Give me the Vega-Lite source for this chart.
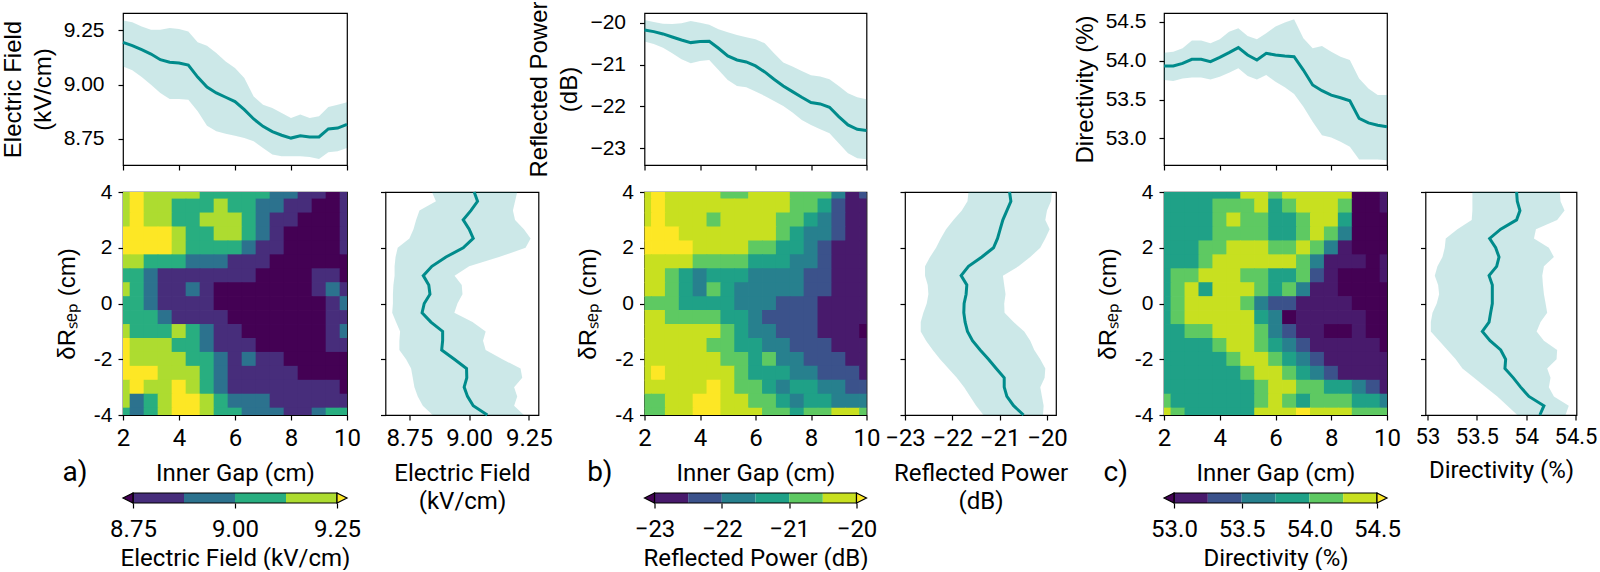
{
"$schema":"https://vega.github.io/schema/vega-lite/v6.json",
"background":"white",
"padding":{"left":0,"top":0,"right":0,"bottom":0},
"config":{
 "view":{"stroke":"black","strokeWidth":1.2},
 "axis":{"grid":false,"domain":false,"tickColor":"black","tickWidth":1.2,"tickSize":5,"labelColor":"black","titleColor":"black","labelFont":"Roboto","titleFont":"Roboto","labelFontSize":24,"titleFontSize":24,"titleFontWeight":"normal","labelFlush":false,"labelOverlap":false,"labelPadding":6,"titlePadding":11,"titleLineHeight":28},
 "axisY":{"labelFont":"Liberation Sans","titleFont":"Liberation Sans","labelFontSize":21,"titleFontSize":24,"titleLineHeight":30,"labelPadding":6,"titlePadding":8},
 "title":{"font":"Roboto","fontWeight":"normal","color":"black"}
},
"columns":8,
"bounds":"flush",
"align":"each",
"spacing":{"row":27,"column":38.5},
"resolve":{"scale":{"x":"independent","y":"independent","color":"independent"}},
"datasets":{
"topA":[
{"g":2,"m":9.195,"lo":9.084,"hi":9.296},{"g":2.333,"m":9.18,"lo":9.066,"hi":9.287},{"g":2.667,"m":9.161,"lo":9.035,"hi":9.268},{"g":3,"m":9.141,"lo":9.0,"hi":9.253},{"g":3.333,"m":9.115,"lo":8.962,"hi":9.253},{"g":3.667,"m":9.103,"lo":8.934,"hi":9.261},{"g":4,"m":9.1,"lo":8.934,"hi":9.256},{"g":4.333,"m":9.09,"lo":8.931,"hi":9.245},{"g":4.667,"m":9.035,"lo":8.877,"hi":9.195},{"g":5,"m":8.989,"lo":8.811,"hi":9.179},{"g":5.333,"m":8.962,"lo":8.785,"hi":9.146},{"g":5.667,"m":8.942,"lo":8.774,"hi":9.107},{"g":6,"m":8.922,"lo":8.765,"hi":9.077},{"g":6.333,"m":8.885,"lo":8.754,"hi":9.031},{"g":6.667,"m":8.842,"lo":8.739,"hi":8.946},{"g":7,"m":8.808,"lo":8.708,"hi":8.908},{"g":7.333,"m":8.784,"lo":8.678,"hi":8.893},{"g":7.667,"m":8.767,"lo":8.67,"hi":8.87},{"g":8,"m":8.754,"lo":8.67,"hi":8.847},{"g":8.333,"m":8.765,"lo":8.67,"hi":8.862},{"g":8.667,"m":8.759,"lo":8.667,"hi":8.847},{"g":9,"m":8.759,"lo":8.658,"hi":8.854},{"g":9.333,"m":8.796,"lo":8.689,"hi":8.897},{"g":9.667,"m":8.8,"lo":8.693,"hi":8.908},{"g":10,"m":8.817,"lo":8.708,"hi":8.919}],
"sideA":[
{"d":4,"m":9.021,"lo":8.844,"hi":9.201},{"d":3.667,"m":9.035,"lo":8.861,"hi":9.192},{"d":3.333,"m":9.007,"lo":8.792,"hi":9.183},{"d":3,"m":8.975,"lo":8.778,"hi":9.192},{"d":2.667,"m":9.0,"lo":8.767,"hi":9.229},{"d":2.333,"m":9.017,"lo":8.75,"hi":9.257},{"d":2,"m":8.975,"lo":8.701,"hi":9.236},{"d":1.667,"m":8.903,"lo":8.692,"hi":9.125},{"d":1.333,"m":8.844,"lo":8.688,"hi":9.0},{"d":1,"m":8.808,"lo":8.688,"hi":8.939},{"d":0.667,"m":8.831,"lo":8.683,"hi":8.969},{"d":0.333,"m":8.836,"lo":8.681,"hi":8.972},{"d":0,"m":8.812,"lo":8.681,"hi":8.951},{"d":-0.333,"m":8.803,"lo":8.678,"hi":8.938},{"d":-0.667,"m":8.84,"lo":8.694,"hi":9.014},{"d":-1,"m":8.889,"lo":8.711,"hi":9.069},{"d":-1.333,"m":8.889,"lo":8.708,"hi":9.058},{"d":-1.667,"m":8.885,"lo":8.708,"hi":9.069},{"d":-2,"m":8.938,"lo":8.736,"hi":9.139},{"d":-2.333,"m":8.989,"lo":8.757,"hi":9.215},{"d":-2.667,"m":8.99,"lo":8.764,"hi":9.222},{"d":-3,"m":8.979,"lo":8.771,"hi":9.188},{"d":-3.333,"m":8.993,"lo":8.785,"hi":9.201},{"d":-3.667,"m":9.017,"lo":8.806,"hi":9.188},{"d":-4,"m":9.076,"lo":8.847,"hi":9.229}],
"topB":[
{"g":2,"m":-20.175,"lo":-20.453,"hi":-19.936},{"g":2.333,"m":-20.215,"lo":-20.509,"hi":-19.984},{"g":2.667,"m":-20.27,"lo":-20.597,"hi":-20.024},{"g":3,"m":-20.342,"lo":-20.732,"hi":-20.032},{"g":3.333,"m":-20.414,"lo":-20.875,"hi":-20.016},{"g":3.667,"m":-20.477,"lo":-20.971,"hi":-19.96},{"g":4,"m":-20.453,"lo":-20.915,"hi":-20.0},{"g":4.333,"m":-20.445,"lo":-20.891,"hi":-20.048},{"g":4.667,"m":-20.613,"lo":-21.13,"hi":-20.159},{"g":5,"m":-20.796,"lo":-21.368,"hi":-20.231},{"g":5.333,"m":-20.891,"lo":-21.512,"hi":-20.294},{"g":5.667,"m":-20.939,"lo":-21.543,"hi":-20.35},{"g":6,"m":-21.034,"lo":-21.647,"hi":-20.398},{"g":6.333,"m":-21.177,"lo":-21.75,"hi":-20.493},{"g":6.667,"m":-21.352,"lo":-21.87,"hi":-20.732},{"g":7,"m":-21.512,"lo":-21.989,"hi":-20.955},{"g":7.333,"m":-21.647,"lo":-22.148,"hi":-21.05},{"g":7.667,"m":-21.782,"lo":-22.323,"hi":-21.154},{"g":8,"m":-21.909,"lo":-22.442,"hi":-21.257},{"g":8.333,"m":-21.941,"lo":-22.546,"hi":-21.289},{"g":8.667,"m":-22.021,"lo":-22.641,"hi":-21.352},{"g":9,"m":-22.243,"lo":-22.88,"hi":-21.512},{"g":9.333,"m":-22.442,"lo":-23.119,"hi":-21.687},{"g":9.667,"m":-22.546,"lo":-23.238,"hi":-21.782},{"g":10,"m":-22.578,"lo":-23.262,"hi":-21.83}],
"sideB":[
{"d":4,"m":-20.791,"lo":-21.659,"hi":-19.895},{"d":3.667,"m":-20.763,"lo":-21.68,"hi":-19.916},{"d":3.333,"m":-20.848,"lo":-21.8,"hi":-20.0},{"d":3,"m":-20.932,"lo":-21.977,"hi":-20.036},{"d":2.667,"m":-20.989,"lo":-22.132,"hi":-19.944},{"d":2.333,"m":-21.045,"lo":-22.245,"hi":-20.036},{"d":2,"m":-21.13,"lo":-22.344,"hi":-20.142},{"d":1.667,"m":-21.377,"lo":-22.471,"hi":-20.354},{"d":1.333,"m":-21.659,"lo":-22.577,"hi":-20.601},{"d":1,"m":-21.814,"lo":-22.577,"hi":-20.932},{"d":0.667,"m":-21.694,"lo":-22.52,"hi":-20.904},{"d":0.333,"m":-21.709,"lo":-22.506,"hi":-20.876},{"d":0,"m":-21.751,"lo":-22.541,"hi":-20.904},{"d":-0.333,"m":-21.758,"lo":-22.612,"hi":-20.897},{"d":-0.667,"m":-21.73,"lo":-22.668,"hi":-20.706},{"d":-1,"m":-21.68,"lo":-22.668,"hi":-20.481},{"d":-1.333,"m":-21.574,"lo":-22.555,"hi":-20.354},{"d":-1.667,"m":-21.412,"lo":-22.414,"hi":-20.269},{"d":-2,"m":-21.236,"lo":-22.259,"hi":-20.142},{"d":-2.333,"m":-21.073,"lo":-22.083,"hi":-20.036},{"d":-2.667,"m":-20.904,"lo":-21.906,"hi":-20.05},{"d":-3,"m":-20.904,"lo":-21.751,"hi":-20.142},{"d":-3.333,"m":-20.848,"lo":-21.624,"hi":-20.107},{"d":-3.667,"m":-20.706,"lo":-21.497,"hi":-20.071},{"d":-4,"m":-20.495,"lo":-21.342,"hi":-20.085}],
"topC":[
{"g":2,"m":53.93,"lo":53.75,"hi":54.101},{"g":2.333,"m":53.93,"lo":53.737,"hi":54.114},{"g":2.667,"m":53.964,"lo":53.771,"hi":54.157},{"g":3,"m":54.016,"lo":53.784,"hi":54.256},{"g":3.333,"m":54.016,"lo":53.784,"hi":54.256},{"g":3.667,"m":53.986,"lo":53.758,"hi":54.221},{"g":4,"m":54.041,"lo":53.793,"hi":54.273},{"g":4.333,"m":54.101,"lo":53.844,"hi":54.371},{"g":4.667,"m":54.166,"lo":53.9,"hi":54.414},{"g":5,"m":54.071,"lo":53.801,"hi":54.316},{"g":5.333,"m":54.007,"lo":53.758,"hi":54.273},{"g":5.667,"m":54.093,"lo":53.814,"hi":54.35},{"g":6,"m":54.071,"lo":53.728,"hi":54.436},{"g":6.333,"m":54.058,"lo":53.656,"hi":54.487},{"g":6.667,"m":54.05,"lo":53.57,"hi":54.53},{"g":7,"m":53.878,"lo":53.407,"hi":54.286},{"g":7.333,"m":53.686,"lo":53.214,"hi":54.157},{"g":7.667,"m":53.613,"lo":53.043,"hi":54.187},{"g":8,"m":53.557,"lo":53.013,"hi":54.114},{"g":8.333,"m":53.523,"lo":52.957,"hi":54.05},{"g":8.667,"m":53.484,"lo":52.893,"hi":54.007},{"g":9,"m":53.257,"lo":52.73,"hi":53.771},{"g":9.333,"m":53.201,"lo":52.73,"hi":53.643},{"g":9.667,"m":53.171,"lo":52.73,"hi":53.557},{"g":10,"m":53.15,"lo":52.721,"hi":53.557}],
"sideC":[
{"d":4,"m":53.903,"lo":53.455,"hi":54.341},{"d":3.667,"m":53.91,"lo":53.455,"hi":54.348},{"d":3.333,"m":53.937,"lo":53.455,"hi":54.389},{"d":3,"m":53.903,"lo":53.448,"hi":54.314},{"d":2.667,"m":53.742,"lo":53.303,"hi":54.099},{"d":2.333,"m":53.63,"lo":53.185,"hi":54.079},{"d":2,"m":53.691,"lo":53.175,"hi":54.23},{"d":1.667,"m":53.725,"lo":53.152,"hi":54.281},{"d":1.333,"m":53.701,"lo":53.101,"hi":54.18},{"d":1,"m":53.624,"lo":53.074,"hi":54.163},{"d":0.667,"m":53.657,"lo":53.108,"hi":54.17},{"d":0.333,"m":53.657,"lo":53.118,"hi":54.18},{"d":0,"m":53.657,"lo":53.094,"hi":54.197},{"d":-0.333,"m":53.64,"lo":53.051,"hi":54.213},{"d":-0.667,"m":53.624,"lo":53.034,"hi":54.146},{"d":-1,"m":53.556,"lo":53.034,"hi":54.106},{"d":-1.333,"m":53.634,"lo":53.118,"hi":54.18},{"d":-1.667,"m":53.742,"lo":53.202,"hi":54.314},{"d":-2,"m":53.792,"lo":53.286,"hi":54.308},{"d":-2.333,"m":53.785,"lo":53.354,"hi":54.213},{"d":-2.667,"m":53.87,"lo":53.472,"hi":54.247},{"d":-3,"m":53.944,"lo":53.59,"hi":54.23},{"d":-3.333,"m":54.028,"lo":53.708,"hi":54.281},{"d":-3.667,"m":54.18,"lo":53.809,"hi":54.432},{"d":-4,"m":54.139,"lo":53.91,"hi":54.399}],
"gridA":[
{"g":2,"d":4,"v":9.19},{"g":2.5,"d":4,"v":9.3},{"g":3,"d":4,"v":9.19},{"g":3.5,"d":4,"v":9.19},{"g":4,"d":4,"v":9.19},{"g":4.5,"d":4,"v":9.19},{"g":5,"d":4,"v":9.06},{"g":5.5,"d":4,"v":9.06},{"g":6,"d":4,"v":9.06},{"g":6.5,"d":4,"v":9.06},{"g":7,"d":4,"v":9.06},{"g":7.5,"d":4,"v":8.94},{"g":8,"d":4,"v":8.94},{"g":8.5,"d":4,"v":8.81},{"g":9,"d":4,"v":8.81},{"g":9.5,"d":4,"v":8.7},{"g":10,"d":4,"v":8.81},
{"g":2,"d":3.5,"v":9.19},{"g":2.5,"d":3.5,"v":9.3},{"g":3,"d":3.5,"v":9.19},{"g":3.5,"d":3.5,"v":9.19},{"g":4,"d":3.5,"v":9.06},{"g":4.5,"d":3.5,"v":9.06},{"g":5,"d":3.5,"v":9.06},{"g":5.5,"d":3.5,"v":9.19},{"g":6,"d":3.5,"v":9.06},{"g":6.5,"d":3.5,"v":9.06},{"g":7,"d":3.5,"v":8.94},{"g":7.5,"d":3.5,"v":8.94},{"g":8,"d":3.5,"v":8.81},{"g":8.5,"d":3.5,"v":8.81},{"g":9,"d":3.5,"v":8.7},{"g":9.5,"d":3.5,"v":8.7},{"g":10,"d":3.5,"v":8.81},
{"g":2,"d":3,"v":9.19},{"g":2.5,"d":3,"v":9.3},{"g":3,"d":3,"v":9.19},{"g":3.5,"d":3,"v":9.19},{"g":4,"d":3,"v":9.06},{"g":4.5,"d":3,"v":9.06},{"g":5,"d":3,"v":9.19},{"g":5.5,"d":3,"v":9.19},{"g":6,"d":3,"v":9.19},{"g":6.5,"d":3,"v":9.06},{"g":7,"d":3,"v":8.94},{"g":7.5,"d":3,"v":8.81},{"g":8,"d":3,"v":8.81},{"g":8.5,"d":3,"v":8.7},{"g":9,"d":3,"v":8.7},{"g":9.5,"d":3,"v":8.7},{"g":10,"d":3,"v":8.81},
{"g":2,"d":2.5,"v":9.3},{"g":2.5,"d":2.5,"v":9.3},{"g":3,"d":2.5,"v":9.3},{"g":3.5,"d":2.5,"v":9.3},{"g":4,"d":2.5,"v":9.19},{"g":4.5,"d":2.5,"v":9.06},{"g":5,"d":2.5,"v":9.06},{"g":5.5,"d":2.5,"v":9.19},{"g":6,"d":2.5,"v":9.19},{"g":6.5,"d":2.5,"v":9.06},{"g":7,"d":2.5,"v":8.94},{"g":7.5,"d":2.5,"v":8.81},{"g":8,"d":2.5,"v":8.7},{"g":8.5,"d":2.5,"v":8.7},{"g":9,"d":2.5,"v":8.7},{"g":9.5,"d":2.5,"v":8.7},{"g":10,"d":2.5,"v":8.81},
{"g":2,"d":2,"v":9.3},{"g":2.5,"d":2,"v":9.3},{"g":3,"d":2,"v":9.3},{"g":3.5,"d":2,"v":9.3},{"g":4,"d":2,"v":9.19},{"g":4.5,"d":2,"v":9.06},{"g":5,"d":2,"v":9.06},{"g":5.5,"d":2,"v":9.06},{"g":6,"d":2,"v":9.06},{"g":6.5,"d":2,"v":8.94},{"g":7,"d":2,"v":8.81},{"g":7.5,"d":2,"v":8.81},{"g":8,"d":2,"v":8.7},{"g":8.5,"d":2,"v":8.7},{"g":9,"d":2,"v":8.7},{"g":9.5,"d":2,"v":8.7},{"g":10,"d":2,"v":8.81},
{"g":2,"d":1.5,"v":9.19},{"g":2.5,"d":1.5,"v":9.19},{"g":3,"d":1.5,"v":9.06},{"g":3.5,"d":1.5,"v":9.06},{"g":4,"d":1.5,"v":9.06},{"g":4.5,"d":1.5,"v":8.94},{"g":5,"d":1.5,"v":8.94},{"g":5.5,"d":1.5,"v":8.94},{"g":6,"d":1.5,"v":8.81},{"g":6.5,"d":1.5,"v":8.81},{"g":7,"d":1.5,"v":8.81},{"g":7.5,"d":1.5,"v":8.7},{"g":8,"d":1.5,"v":8.7},{"g":8.5,"d":1.5,"v":8.7},{"g":9,"d":1.5,"v":8.7},{"g":9.5,"d":1.5,"v":8.7},{"g":10,"d":1.5,"v":8.7},
{"g":2,"d":1,"v":9.06},{"g":2.5,"d":1,"v":9.06},{"g":3,"d":1,"v":8.94},{"g":3.5,"d":1,"v":8.81},{"g":4,"d":1,"v":8.81},{"g":4.5,"d":1,"v":8.81},{"g":5,"d":1,"v":8.81},{"g":5.5,"d":1,"v":8.81},{"g":6,"d":1,"v":8.81},{"g":6.5,"d":1,"v":8.81},{"g":7,"d":1,"v":8.7},{"g":7.5,"d":1,"v":8.7},{"g":8,"d":1,"v":8.7},{"g":8.5,"d":1,"v":8.7},{"g":9,"d":1,"v":8.81},{"g":9.5,"d":1,"v":8.81},{"g":10,"d":1,"v":8.7},
{"g":2,"d":0.5,"v":9.19},{"g":2.5,"d":0.5,"v":9.06},{"g":3,"d":0.5,"v":8.94},{"g":3.5,"d":0.5,"v":8.81},{"g":4,"d":0.5,"v":8.81},{"g":4.5,"d":0.5,"v":8.94},{"g":5,"d":0.5,"v":8.81},{"g":5.5,"d":0.5,"v":8.7},{"g":6,"d":0.5,"v":8.7},{"g":6.5,"d":0.5,"v":8.7},{"g":7,"d":0.5,"v":8.7},{"g":7.5,"d":0.5,"v":8.7},{"g":8,"d":0.5,"v":8.7},{"g":8.5,"d":0.5,"v":8.7},{"g":9,"d":0.5,"v":8.81},{"g":9.5,"d":0.5,"v":8.94},{"g":10,"d":0.5,"v":8.81},
{"g":2,"d":0,"v":9.06},{"g":2.5,"d":0,"v":9.06},{"g":3,"d":0,"v":8.94},{"g":3.5,"d":0,"v":8.81},{"g":4,"d":0,"v":8.81},{"g":4.5,"d":0,"v":8.81},{"g":5,"d":0,"v":8.81},{"g":5.5,"d":0,"v":8.7},{"g":6,"d":0,"v":8.7},{"g":6.5,"d":0,"v":8.7},{"g":7,"d":0,"v":8.7},{"g":7.5,"d":0,"v":8.7},{"g":8,"d":0,"v":8.7},{"g":8.5,"d":0,"v":8.7},{"g":9,"d":0,"v":8.7},{"g":9.5,"d":0,"v":8.81},{"g":10,"d":0,"v":8.94},
{"g":2,"d":-0.5,"v":9.06},{"g":2.5,"d":-0.5,"v":9.06},{"g":3,"d":-0.5,"v":9.06},{"g":3.5,"d":-0.5,"v":8.94},{"g":4,"d":-0.5,"v":8.81},{"g":4.5,"d":-0.5,"v":8.81},{"g":5,"d":-0.5,"v":8.81},{"g":5.5,"d":-0.5,"v":8.81},{"g":6,"d":-0.5,"v":8.7},{"g":6.5,"d":-0.5,"v":8.7},{"g":7,"d":-0.5,"v":8.7},{"g":7.5,"d":-0.5,"v":8.7},{"g":8,"d":-0.5,"v":8.7},{"g":8.5,"d":-0.5,"v":8.7},{"g":9,"d":-0.5,"v":8.7},{"g":9.5,"d":-0.5,"v":8.81},{"g":10,"d":-0.5,"v":8.81},
{"g":2,"d":-1,"v":9.19},{"g":2.5,"d":-1,"v":9.06},{"g":3,"d":-1,"v":9.06},{"g":3.5,"d":-1,"v":9.06},{"g":4,"d":-1,"v":9.19},{"g":4.5,"d":-1,"v":9.06},{"g":5,"d":-1,"v":8.94},{"g":5.5,"d":-1,"v":8.81},{"g":6,"d":-1,"v":8.81},{"g":6.5,"d":-1,"v":8.7},{"g":7,"d":-1,"v":8.7},{"g":7.5,"d":-1,"v":8.7},{"g":8,"d":-1,"v":8.7},{"g":8.5,"d":-1,"v":8.7},{"g":9,"d":-1,"v":8.7},{"g":9.5,"d":-1,"v":8.81},{"g":10,"d":-1,"v":8.94},
{"g":2,"d":-1.5,"v":9.3},{"g":2.5,"d":-1.5,"v":9.19},{"g":3,"d":-1.5,"v":9.19},{"g":3.5,"d":-1.5,"v":9.19},{"g":4,"d":-1.5,"v":9.06},{"g":4.5,"d":-1.5,"v":9.06},{"g":5,"d":-1.5,"v":8.94},{"g":5.5,"d":-1.5,"v":8.81},{"g":6,"d":-1.5,"v":8.81},{"g":6.5,"d":-1.5,"v":8.81},{"g":7,"d":-1.5,"v":8.7},{"g":7.5,"d":-1.5,"v":8.7},{"g":8,"d":-1.5,"v":8.7},{"g":8.5,"d":-1.5,"v":8.7},{"g":9,"d":-1.5,"v":8.7},{"g":9.5,"d":-1.5,"v":8.81},{"g":10,"d":-1.5,"v":8.81},
{"g":2,"d":-2,"v":9.3},{"g":2.5,"d":-2,"v":9.19},{"g":3,"d":-2,"v":9.19},{"g":3.5,"d":-2,"v":9.19},{"g":4,"d":-2,"v":9.19},{"g":4.5,"d":-2,"v":9.06},{"g":5,"d":-2,"v":9.06},{"g":5.5,"d":-2,"v":8.94},{"g":6,"d":-2,"v":8.81},{"g":6.5,"d":-2,"v":8.94},{"g":7,"d":-2,"v":8.81},{"g":7.5,"d":-2,"v":8.81},{"g":8,"d":-2,"v":8.7},{"g":8.5,"d":-2,"v":8.7},{"g":9,"d":-2,"v":8.7},{"g":9.5,"d":-2,"v":8.7},{"g":10,"d":-2,"v":8.7},
{"g":2,"d":-2.5,"v":9.3},{"g":2.5,"d":-2.5,"v":9.3},{"g":3,"d":-2.5,"v":9.3},{"g":3.5,"d":-2.5,"v":9.19},{"g":4,"d":-2.5,"v":9.19},{"g":4.5,"d":-2.5,"v":9.19},{"g":5,"d":-2.5,"v":9.06},{"g":5.5,"d":-2.5,"v":8.94},{"g":6,"d":-2.5,"v":8.81},{"g":6.5,"d":-2.5,"v":8.81},{"g":7,"d":-2.5,"v":8.81},{"g":7.5,"d":-2.5,"v":8.81},{"g":8,"d":-2.5,"v":8.81},{"g":8.5,"d":-2.5,"v":8.7},{"g":9,"d":-2.5,"v":8.7},{"g":9.5,"d":-2.5,"v":8.7},{"g":10,"d":-2.5,"v":8.7},
{"g":2,"d":-3,"v":9.19},{"g":2.5,"d":-3,"v":9.3},{"g":3,"d":-3,"v":9.19},{"g":3.5,"d":-3,"v":9.19},{"g":4,"d":-3,"v":9.3},{"g":4.5,"d":-3,"v":9.19},{"g":5,"d":-3,"v":9.06},{"g":5.5,"d":-3,"v":8.94},{"g":6,"d":-3,"v":8.81},{"g":6.5,"d":-3,"v":8.81},{"g":7,"d":-3,"v":8.81},{"g":7.5,"d":-3,"v":8.81},{"g":8,"d":-3,"v":8.81},{"g":8.5,"d":-3,"v":8.81},{"g":9,"d":-3,"v":8.81},{"g":9.5,"d":-3,"v":8.81},{"g":10,"d":-3,"v":8.7},
{"g":2,"d":-3.5,"v":9.19},{"g":2.5,"d":-3.5,"v":8.94},{"g":3,"d":-3.5,"v":9.06},{"g":3.5,"d":-3.5,"v":9.19},{"g":4,"d":-3.5,"v":9.3},{"g":4.5,"d":-3.5,"v":9.3},{"g":5,"d":-3.5,"v":9.19},{"g":5.5,"d":-3.5,"v":9.06},{"g":6,"d":-3.5,"v":8.94},{"g":6.5,"d":-3.5,"v":8.94},{"g":7,"d":-3.5,"v":8.94},{"g":7.5,"d":-3.5,"v":8.81},{"g":8,"d":-3.5,"v":8.81},{"g":8.5,"d":-3.5,"v":8.81},{"g":9,"d":-3.5,"v":8.81},{"g":9.5,"d":-3.5,"v":8.81},{"g":10,"d":-3.5,"v":8.81},
{"g":2,"d":-4,"v":9.06},{"g":2.5,"d":-4,"v":8.94},{"g":3,"d":-4,"v":9.06},{"g":3.5,"d":-4,"v":9.19},{"g":4,"d":-4,"v":9.3},{"g":4.5,"d":-4,"v":9.3},{"g":5,"d":-4,"v":9.19},{"g":5.5,"d":-4,"v":9.06},{"g":6,"d":-4,"v":9.06},{"g":6.5,"d":-4,"v":8.94},{"g":7,"d":-4,"v":8.94},{"g":7.5,"d":-4,"v":8.94},{"g":8,"d":-4,"v":8.81},{"g":8.5,"d":-4,"v":8.81},{"g":9,"d":-4,"v":8.94},{"g":9.5,"d":-4,"v":9.06},{"g":10,"d":-4,"v":9.06}],
"gridB":[
{"g":2,"d":4,"v":-20.25},{"g":2.5,"d":4,"v":-19.8},{"g":3,"d":4,"v":-20.25},{"g":3.5,"d":4,"v":-20.25},{"g":4,"d":4,"v":-20.25},{"g":4.5,"d":4,"v":-20.25},{"g":5,"d":4,"v":-20.75},{"g":5.5,"d":4,"v":-20.75},{"g":6,"d":4,"v":-20.25},{"g":6.5,"d":4,"v":-20.25},{"g":7,"d":4,"v":-20.25},{"g":7.5,"d":4,"v":-20.75},{"g":8,"d":4,"v":-20.75},{"g":8.5,"d":4,"v":-20.75},{"g":9,"d":4,"v":-21.75},{"g":9.5,"d":4,"v":-22.75},{"g":10,"d":4,"v":-22.25},
{"g":2,"d":3.5,"v":-20.25},{"g":2.5,"d":3.5,"v":-19.8},{"g":3,"d":3.5,"v":-20.25},{"g":3.5,"d":3.5,"v":-20.25},{"g":4,"d":3.5,"v":-20.25},{"g":4.5,"d":3.5,"v":-20.25},{"g":5,"d":3.5,"v":-20.25},{"g":5.5,"d":3.5,"v":-20.25},{"g":6,"d":3.5,"v":-20.25},{"g":6.5,"d":3.5,"v":-20.25},{"g":7,"d":3.5,"v":-20.25},{"g":7.5,"d":3.5,"v":-20.75},{"g":8,"d":3.5,"v":-20.75},{"g":8.5,"d":3.5,"v":-21.25},{"g":9,"d":3.5,"v":-22.25},{"g":9.5,"d":3.5,"v":-22.75},{"g":10,"d":3.5,"v":-22.75},
{"g":2,"d":3,"v":-20.25},{"g":2.5,"d":3,"v":-19.8},{"g":3,"d":3,"v":-20.25},{"g":3.5,"d":3,"v":-20.25},{"g":4,"d":3,"v":-20.25},{"g":4.5,"d":3,"v":-20.75},{"g":5,"d":3,"v":-20.25},{"g":5.5,"d":3,"v":-20.25},{"g":6,"d":3,"v":-20.25},{"g":6.5,"d":3,"v":-20.25},{"g":7,"d":3,"v":-20.75},{"g":7.5,"d":3,"v":-20.75},{"g":8,"d":3,"v":-21.25},{"g":8.5,"d":3,"v":-21.75},{"g":9,"d":3,"v":-22.25},{"g":9.5,"d":3,"v":-22.75},{"g":10,"d":3,"v":-22.75},
{"g":2,"d":2.5,"v":-19.8},{"g":2.5,"d":2.5,"v":-19.8},{"g":3,"d":2.5,"v":-19.8},{"g":3.5,"d":2.5,"v":-20.25},{"g":4,"d":2.5,"v":-20.25},{"g":4.5,"d":2.5,"v":-20.25},{"g":5,"d":2.5,"v":-20.25},{"g":5.5,"d":2.5,"v":-20.25},{"g":6,"d":2.5,"v":-20.25},{"g":6.5,"d":2.5,"v":-20.25},{"g":7,"d":2.5,"v":-20.75},{"g":7.5,"d":2.5,"v":-21.25},{"g":8,"d":2.5,"v":-21.75},{"g":8.5,"d":2.5,"v":-21.75},{"g":9,"d":2.5,"v":-22.25},{"g":9.5,"d":2.5,"v":-22.75},{"g":10,"d":2.5,"v":-22.75},
{"g":2,"d":2,"v":-19.8},{"g":2.5,"d":2,"v":-19.8},{"g":3,"d":2,"v":-19.8},{"g":3.5,"d":2,"v":-19.8},{"g":4,"d":2,"v":-20.25},{"g":4.5,"d":2,"v":-20.25},{"g":5,"d":2,"v":-20.25},{"g":5.5,"d":2,"v":-20.25},{"g":6,"d":2,"v":-20.75},{"g":6.5,"d":2,"v":-20.75},{"g":7,"d":2,"v":-21.25},{"g":7.5,"d":2,"v":-21.25},{"g":8,"d":2,"v":-21.75},{"g":8.5,"d":2,"v":-22.25},{"g":9,"d":2,"v":-22.75},{"g":9.5,"d":2,"v":-22.75},{"g":10,"d":2,"v":-22.75},
{"g":2,"d":1.5,"v":-20.25},{"g":2.5,"d":1.5,"v":-20.25},{"g":3,"d":1.5,"v":-20.25},{"g":3.5,"d":1.5,"v":-20.25},{"g":4,"d":1.5,"v":-20.75},{"g":4.5,"d":1.5,"v":-20.75},{"g":5,"d":1.5,"v":-20.75},{"g":5.5,"d":1.5,"v":-20.75},{"g":6,"d":1.5,"v":-21.25},{"g":6.5,"d":1.5,"v":-21.25},{"g":7,"d":1.5,"v":-21.25},{"g":7.5,"d":1.5,"v":-21.75},{"g":8,"d":1.5,"v":-21.75},{"g":8.5,"d":1.5,"v":-22.25},{"g":9,"d":1.5,"v":-22.75},{"g":9.5,"d":1.5,"v":-22.75},{"g":10,"d":1.5,"v":-22.75},
{"g":2,"d":1,"v":-20.25},{"g":2.5,"d":1,"v":-20.25},{"g":3,"d":1,"v":-20.75},{"g":3.5,"d":1,"v":-21.25},{"g":4,"d":1,"v":-21.75},{"g":4.5,"d":1,"v":-21.25},{"g":5,"d":1,"v":-21.25},{"g":5.5,"d":1,"v":-21.25},{"g":6,"d":1,"v":-21.75},{"g":6.5,"d":1,"v":-21.75},{"g":7,"d":1,"v":-21.75},{"g":7.5,"d":1,"v":-21.75},{"g":8,"d":1,"v":-22.25},{"g":8.5,"d":1,"v":-22.25},{"g":9,"d":1,"v":-22.75},{"g":9.5,"d":1,"v":-22.75},{"g":10,"d":1,"v":-22.75},
{"g":2,"d":0.5,"v":-20.25},{"g":2.5,"d":0.5,"v":-20.25},{"g":3,"d":0.5,"v":-20.75},{"g":3.5,"d":0.5,"v":-21.25},{"g":4,"d":0.5,"v":-21.75},{"g":4.5,"d":0.5,"v":-20.75},{"g":5,"d":0.5,"v":-21.25},{"g":5.5,"d":0.5,"v":-21.75},{"g":6,"d":0.5,"v":-21.75},{"g":6.5,"d":0.5,"v":-21.75},{"g":7,"d":0.5,"v":-21.75},{"g":7.5,"d":0.5,"v":-21.75},{"g":8,"d":0.5,"v":-22.25},{"g":8.5,"d":0.5,"v":-22.25},{"g":9,"d":0.5,"v":-22.75},{"g":9.5,"d":0.5,"v":-22.75},{"g":10,"d":0.5,"v":-22.75},
{"g":2,"d":0,"v":-20.75},{"g":2.5,"d":0,"v":-20.75},{"g":3,"d":0,"v":-20.75},{"g":3.5,"d":0,"v":-21.25},{"g":4,"d":0,"v":-21.25},{"g":4.5,"d":0,"v":-21.25},{"g":5,"d":0,"v":-21.25},{"g":5.5,"d":0,"v":-21.75},{"g":6,"d":0,"v":-21.75},{"g":6.5,"d":0,"v":-21.75},{"g":7,"d":0,"v":-22.25},{"g":7.5,"d":0,"v":-22.25},{"g":8,"d":0,"v":-22.25},{"g":8.5,"d":0,"v":-22.75},{"g":9,"d":0,"v":-22.75},{"g":9.5,"d":0,"v":-22.75},{"g":10,"d":0,"v":-22.75},
{"g":2,"d":-0.5,"v":-20.25},{"g":2.5,"d":-0.5,"v":-20.25},{"g":3,"d":-0.5,"v":-20.75},{"g":3.5,"d":-0.5,"v":-20.75},{"g":4,"d":-0.5,"v":-20.75},{"g":4.5,"d":-0.5,"v":-20.75},{"g":5,"d":-0.5,"v":-21.25},{"g":5.5,"d":-0.5,"v":-21.25},{"g":6,"d":-0.5,"v":-21.75},{"g":6.5,"d":-0.5,"v":-22.25},{"g":7,"d":-0.5,"v":-22.25},{"g":7.5,"d":-0.5,"v":-22.25},{"g":8,"d":-0.5,"v":-22.25},{"g":8.5,"d":-0.5,"v":-22.75},{"g":9,"d":-0.5,"v":-22.75},{"g":9.5,"d":-0.5,"v":-22.75},{"g":10,"d":-0.5,"v":-22.75},
{"g":2,"d":-1,"v":-20.25},{"g":2.5,"d":-1,"v":-20.25},{"g":3,"d":-1,"v":-20.25},{"g":3.5,"d":-1,"v":-20.25},{"g":4,"d":-1,"v":-20.25},{"g":4.5,"d":-1,"v":-20.25},{"g":5,"d":-1,"v":-20.75},{"g":5.5,"d":-1,"v":-21.25},{"g":6,"d":-1,"v":-21.75},{"g":6.5,"d":-1,"v":-21.75},{"g":7,"d":-1,"v":-22.25},{"g":7.5,"d":-1,"v":-22.25},{"g":8,"d":-1,"v":-22.25},{"g":8.5,"d":-1,"v":-22.75},{"g":9,"d":-1,"v":-22.75},{"g":9.5,"d":-1,"v":-22.75},{"g":10,"d":-1,"v":-23.2},
{"g":2,"d":-1.5,"v":-20.25},{"g":2.5,"d":-1.5,"v":-20.25},{"g":3,"d":-1.5,"v":-20.25},{"g":3.5,"d":-1.5,"v":-20.25},{"g":4,"d":-1.5,"v":-20.25},{"g":4.5,"d":-1.5,"v":-20.75},{"g":5,"d":-1.5,"v":-20.75},{"g":5.5,"d":-1.5,"v":-21.25},{"g":6,"d":-1.5,"v":-21.25},{"g":6.5,"d":-1.5,"v":-21.75},{"g":7,"d":-1.5,"v":-21.75},{"g":7.5,"d":-1.5,"v":-22.25},{"g":8,"d":-1.5,"v":-22.25},{"g":8.5,"d":-1.5,"v":-22.25},{"g":9,"d":-1.5,"v":-22.75},{"g":9.5,"d":-1.5,"v":-22.75},{"g":10,"d":-1.5,"v":-22.75},
{"g":2,"d":-2,"v":-20.25},{"g":2.5,"d":-2,"v":-20.25},{"g":3,"d":-2,"v":-20.25},{"g":3.5,"d":-2,"v":-20.25},{"g":4,"d":-2,"v":-20.25},{"g":4.5,"d":-2,"v":-20.25},{"g":5,"d":-2,"v":-20.75},{"g":5.5,"d":-2,"v":-20.75},{"g":6,"d":-2,"v":-21.25},{"g":6.5,"d":-2,"v":-20.75},{"g":7,"d":-2,"v":-21.75},{"g":7.5,"d":-2,"v":-21.75},{"g":8,"d":-2,"v":-22.25},{"g":8.5,"d":-2,"v":-22.25},{"g":9,"d":-2,"v":-22.25},{"g":9.5,"d":-2,"v":-22.75},{"g":10,"d":-2,"v":-22.75},
{"g":2,"d":-2.5,"v":-20.25},{"g":2.5,"d":-2.5,"v":-19.8},{"g":3,"d":-2.5,"v":-20.25},{"g":3.5,"d":-2.5,"v":-20.25},{"g":4,"d":-2.5,"v":-20.25},{"g":4.5,"d":-2.5,"v":-20.25},{"g":5,"d":-2.5,"v":-20.25},{"g":5.5,"d":-2.5,"v":-20.75},{"g":6,"d":-2.5,"v":-21.25},{"g":6.5,"d":-2.5,"v":-21.25},{"g":7,"d":-2.5,"v":-21.25},{"g":7.5,"d":-2.5,"v":-21.75},{"g":8,"d":-2.5,"v":-21.75},{"g":8.5,"d":-2.5,"v":-22.25},{"g":9,"d":-2.5,"v":-22.25},{"g":9.5,"d":-2.5,"v":-22.25},{"g":10,"d":-2.5,"v":-22.75},
{"g":2,"d":-3,"v":-20.25},{"g":2.5,"d":-3,"v":-20.25},{"g":3,"d":-3,"v":-20.25},{"g":3.5,"d":-3,"v":-20.25},{"g":4,"d":-3,"v":-20.25},{"g":4.5,"d":-3,"v":-19.8},{"g":5,"d":-3,"v":-20.25},{"g":5.5,"d":-3,"v":-20.75},{"g":6,"d":-3,"v":-20.75},{"g":6.5,"d":-3,"v":-21.25},{"g":7,"d":-3,"v":-21.75},{"g":7.5,"d":-3,"v":-21.25},{"g":8,"d":-3,"v":-21.25},{"g":8.5,"d":-3,"v":-21.75},{"g":9,"d":-3,"v":-21.75},{"g":9.5,"d":-3,"v":-22.25},{"g":10,"d":-3,"v":-22.25},
{"g":2,"d":-3.5,"v":-20.75},{"g":2.5,"d":-3.5,"v":-20.75},{"g":3,"d":-3.5,"v":-20.25},{"g":3.5,"d":-3.5,"v":-20.25},{"g":4,"d":-3.5,"v":-19.8},{"g":4.5,"d":-3.5,"v":-19.8},{"g":5,"d":-3.5,"v":-20.25},{"g":5.5,"d":-3.5,"v":-20.25},{"g":6,"d":-3.5,"v":-20.75},{"g":6.5,"d":-3.5,"v":-20.75},{"g":7,"d":-3.5,"v":-21.25},{"g":7.5,"d":-3.5,"v":-21.75},{"g":8,"d":-3.5,"v":-21.25},{"g":8.5,"d":-3.5,"v":-21.25},{"g":9,"d":-3.5,"v":-21.75},{"g":9.5,"d":-3.5,"v":-21.75},{"g":10,"d":-3.5,"v":-21.75},
{"g":2,"d":-4,"v":-20.75},{"g":2.5,"d":-4,"v":-20.75},{"g":3,"d":-4,"v":-20.25},{"g":3.5,"d":-4,"v":-20.25},{"g":4,"d":-4,"v":-19.8},{"g":4.5,"d":-4,"v":-19.8},{"g":5,"d":-4,"v":-20.25},{"g":5.5,"d":-4,"v":-20.25},{"g":6,"d":-4,"v":-20.25},{"g":6.5,"d":-4,"v":-20.75},{"g":7,"d":-4,"v":-20.75},{"g":7.5,"d":-4,"v":-21.25},{"g":8,"d":-4,"v":-20.75},{"g":8.5,"d":-4,"v":-20.75},{"g":9,"d":-4,"v":-20.25},{"g":9.5,"d":-4,"v":-20.25},{"g":10,"d":-4,"v":-20.75}],
"gridC":[
{"g":2,"d":4,"v":53.87},{"g":2.5,"d":4,"v":53.87},{"g":3,"d":4,"v":53.87},{"g":3.5,"d":4,"v":53.87},{"g":4,"d":4,"v":53.87},{"g":4.5,"d":4,"v":53.87},{"g":5,"d":4,"v":54.37},{"g":5.5,"d":4,"v":54.37},{"g":6,"d":4,"v":54.12},{"g":6.5,"d":4,"v":54.37},{"g":7,"d":4,"v":54.37},{"g":7.5,"d":4,"v":54.37},{"g":8,"d":4,"v":54.37},{"g":8.5,"d":4,"v":54.37},{"g":9,"d":4,"v":52.9},{"g":9.5,"d":4,"v":52.9},{"g":10,"d":4,"v":53.12},
{"g":2,"d":3.5,"v":53.87},{"g":2.5,"d":3.5,"v":53.87},{"g":3,"d":3.5,"v":53.87},{"g":3.5,"d":3.5,"v":53.87},{"g":4,"d":3.5,"v":54.12},{"g":4.5,"d":3.5,"v":54.12},{"g":5,"d":3.5,"v":54.12},{"g":5.5,"d":3.5,"v":54.37},{"g":6,"d":3.5,"v":53.87},{"g":6.5,"d":3.5,"v":54.12},{"g":7,"d":3.5,"v":54.37},{"g":7.5,"d":3.5,"v":54.37},{"g":8,"d":3.5,"v":54.37},{"g":8.5,"d":3.5,"v":54.12},{"g":9,"d":3.5,"v":52.9},{"g":9.5,"d":3.5,"v":52.9},{"g":10,"d":3.5,"v":53.12},
{"g":2,"d":3,"v":53.87},{"g":2.5,"d":3,"v":53.87},{"g":3,"d":3,"v":53.87},{"g":3.5,"d":3,"v":53.87},{"g":4,"d":3,"v":54.12},{"g":4.5,"d":3,"v":54.37},{"g":5,"d":3,"v":54.12},{"g":5.5,"d":3,"v":54.12},{"g":6,"d":3,"v":53.87},{"g":6.5,"d":3,"v":53.87},{"g":7,"d":3,"v":54.12},{"g":7.5,"d":3,"v":54.37},{"g":8,"d":3,"v":54.37},{"g":8.5,"d":3,"v":53.87},{"g":9,"d":3,"v":52.9},{"g":9.5,"d":3,"v":52.9},{"g":10,"d":3,"v":52.9},
{"g":2,"d":2.5,"v":53.87},{"g":2.5,"d":2.5,"v":53.87},{"g":3,"d":2.5,"v":53.87},{"g":3.5,"d":2.5,"v":53.87},{"g":4,"d":2.5,"v":54.12},{"g":4.5,"d":2.5,"v":54.12},{"g":5,"d":2.5,"v":54.12},{"g":5.5,"d":2.5,"v":54.12},{"g":6,"d":2.5,"v":53.87},{"g":6.5,"d":2.5,"v":53.87},{"g":7,"d":2.5,"v":54.12},{"g":7.5,"d":2.5,"v":54.37},{"g":8,"d":2.5,"v":54.12},{"g":8.5,"d":2.5,"v":53.62},{"g":9,"d":2.5,"v":52.9},{"g":9.5,"d":2.5,"v":52.9},{"g":10,"d":2.5,"v":52.9},
{"g":2,"d":2,"v":53.87},{"g":2.5,"d":2,"v":53.87},{"g":3,"d":2,"v":53.87},{"g":3.5,"d":2,"v":54.12},{"g":4,"d":2,"v":54.12},{"g":4.5,"d":2,"v":54.37},{"g":5,"d":2,"v":54.37},{"g":5.5,"d":2,"v":54.37},{"g":6,"d":2,"v":54.12},{"g":6.5,"d":2,"v":54.12},{"g":7,"d":2,"v":54.37},{"g":7.5,"d":2,"v":54.12},{"g":8,"d":2,"v":53.62},{"g":8.5,"d":2,"v":53.12},{"g":9,"d":2,"v":52.9},{"g":9.5,"d":2,"v":52.9},{"g":10,"d":2,"v":52.9},
{"g":2,"d":1.5,"v":53.87},{"g":2.5,"d":1.5,"v":53.87},{"g":3,"d":1.5,"v":53.87},{"g":3.5,"d":1.5,"v":54.12},{"g":4,"d":1.5,"v":54.37},{"g":4.5,"d":1.5,"v":54.37},{"g":5,"d":1.5,"v":54.37},{"g":5.5,"d":1.5,"v":54.37},{"g":6,"d":1.5,"v":54.37},{"g":6.5,"d":1.5,"v":54.37},{"g":7,"d":1.5,"v":54.12},{"g":7.5,"d":1.5,"v":53.62},{"g":8,"d":1.5,"v":53.12},{"g":8.5,"d":1.5,"v":53.12},{"g":9,"d":1.5,"v":53.12},{"g":9.5,"d":1.5,"v":52.9},{"g":10,"d":1.5,"v":53.12},
{"g":2,"d":1,"v":53.87},{"g":2.5,"d":1,"v":54.12},{"g":3,"d":1,"v":54.12},{"g":3.5,"d":1,"v":54.37},{"g":4,"d":1,"v":54.37},{"g":4.5,"d":1,"v":54.37},{"g":5,"d":1,"v":54.12},{"g":5.5,"d":1,"v":54.12},{"g":6,"d":1,"v":53.87},{"g":6.5,"d":1,"v":53.87},{"g":7,"d":1,"v":54.12},{"g":7.5,"d":1,"v":53.37},{"g":8,"d":1,"v":53.12},{"g":8.5,"d":1,"v":52.9},{"g":9,"d":1,"v":52.9},{"g":9.5,"d":1,"v":52.9},{"g":10,"d":1,"v":53.12},
{"g":2,"d":0.5,"v":53.87},{"g":2.5,"d":0.5,"v":54.12},{"g":3,"d":0.5,"v":54.37},{"g":3.5,"d":0.5,"v":53.87},{"g":4,"d":0.5,"v":54.37},{"g":4.5,"d":0.5,"v":54.37},{"g":5,"d":0.5,"v":54.37},{"g":5.5,"d":0.5,"v":54.12},{"g":6,"d":0.5,"v":53.87},{"g":6.5,"d":0.5,"v":54.12},{"g":7,"d":0.5,"v":53.62},{"g":7.5,"d":0.5,"v":53.12},{"g":8,"d":0.5,"v":53.12},{"g":8.5,"d":0.5,"v":52.9},{"g":9,"d":0.5,"v":52.9},{"g":9.5,"d":0.5,"v":52.9},{"g":10,"d":0.5,"v":52.9},
{"g":2,"d":0,"v":53.87},{"g":2.5,"d":0,"v":54.12},{"g":3,"d":0,"v":54.37},{"g":3.5,"d":0,"v":54.37},{"g":4,"d":0,"v":54.37},{"g":4.5,"d":0,"v":54.37},{"g":5,"d":0,"v":54.12},{"g":5.5,"d":0,"v":53.62},{"g":6,"d":0,"v":53.37},{"g":6.5,"d":0,"v":53.37},{"g":7,"d":0,"v":53.12},{"g":7.5,"d":0,"v":53.12},{"g":8,"d":0,"v":53.12},{"g":8.5,"d":0,"v":53.12},{"g":9,"d":0,"v":52.9},{"g":9.5,"d":0,"v":52.9},{"g":10,"d":0,"v":52.9},
{"g":2,"d":-0.5,"v":53.87},{"g":2.5,"d":-0.5,"v":54.12},{"g":3,"d":-0.5,"v":54.37},{"g":3.5,"d":-0.5,"v":54.37},{"g":4,"d":-0.5,"v":54.37},{"g":4.5,"d":-0.5,"v":54.37},{"g":5,"d":-0.5,"v":54.37},{"g":5.5,"d":-0.5,"v":53.87},{"g":6,"d":-0.5,"v":53.62},{"g":6.5,"d":-0.5,"v":52.9},{"g":7,"d":-0.5,"v":53.12},{"g":7.5,"d":-0.5,"v":53.12},{"g":8,"d":-0.5,"v":53.12},{"g":8.5,"d":-0.5,"v":53.12},{"g":9,"d":-0.5,"v":53.12},{"g":9.5,"d":-0.5,"v":52.9},{"g":10,"d":-0.5,"v":52.9},
{"g":2,"d":-1,"v":53.87},{"g":2.5,"d":-1,"v":53.87},{"g":3,"d":-1,"v":54.12},{"g":3.5,"d":-1,"v":54.12},{"g":4,"d":-1,"v":54.37},{"g":4.5,"d":-1,"v":54.37},{"g":5,"d":-1,"v":54.37},{"g":5.5,"d":-1,"v":54.12},{"g":6,"d":-1,"v":53.62},{"g":6.5,"d":-1,"v":53.37},{"g":7,"d":-1,"v":53.12},{"g":7.5,"d":-1,"v":53.12},{"g":8,"d":-1,"v":52.9},{"g":8.5,"d":-1,"v":52.9},{"g":9,"d":-1,"v":53.12},{"g":9.5,"d":-1,"v":52.9},{"g":10,"d":-1,"v":52.9},
{"g":2,"d":-1.5,"v":53.87},{"g":2.5,"d":-1.5,"v":53.87},{"g":3,"d":-1.5,"v":53.87},{"g":3.5,"d":-1.5,"v":53.87},{"g":4,"d":-1.5,"v":54.12},{"g":4.5,"d":-1.5,"v":54.37},{"g":5,"d":-1.5,"v":54.37},{"g":5.5,"d":-1.5,"v":54.12},{"g":6,"d":-1.5,"v":53.87},{"g":6.5,"d":-1.5,"v":53.62},{"g":7,"d":-1.5,"v":53.37},{"g":7.5,"d":-1.5,"v":53.12},{"g":8,"d":-1.5,"v":53.12},{"g":8.5,"d":-1.5,"v":53.12},{"g":9,"d":-1.5,"v":53.12},{"g":9.5,"d":-1.5,"v":53.12},{"g":10,"d":-1.5,"v":52.9},
{"g":2,"d":-2,"v":53.87},{"g":2.5,"d":-2,"v":53.87},{"g":3,"d":-2,"v":53.87},{"g":3.5,"d":-2,"v":53.87},{"g":4,"d":-2,"v":53.87},{"g":4.5,"d":-2,"v":54.12},{"g":5,"d":-2,"v":54.37},{"g":5.5,"d":-2,"v":54.37},{"g":6,"d":-2,"v":54.12},{"g":6.5,"d":-2,"v":53.87},{"g":7,"d":-2,"v":53.62},{"g":7.5,"d":-2,"v":53.37},{"g":8,"d":-2,"v":53.12},{"g":8.5,"d":-2,"v":53.12},{"g":9,"d":-2,"v":53.12},{"g":9.5,"d":-2,"v":53.12},{"g":10,"d":-2,"v":53.12},
{"g":2,"d":-2.5,"v":53.87},{"g":2.5,"d":-2.5,"v":53.87},{"g":3,"d":-2.5,"v":53.87},{"g":3.5,"d":-2.5,"v":53.87},{"g":4,"d":-2.5,"v":53.87},{"g":4.5,"d":-2.5,"v":53.87},{"g":5,"d":-2.5,"v":54.12},{"g":5.5,"d":-2.5,"v":54.37},{"g":6,"d":-2.5,"v":54.37},{"g":6.5,"d":-2.5,"v":54.12},{"g":7,"d":-2.5,"v":53.87},{"g":7.5,"d":-2.5,"v":53.62},{"g":8,"d":-2.5,"v":53.37},{"g":8.5,"d":-2.5,"v":53.12},{"g":9,"d":-2.5,"v":53.12},{"g":9.5,"d":-2.5,"v":53.12},{"g":10,"d":-2.5,"v":53.12},
{"g":2,"d":-3,"v":53.87},{"g":2.5,"d":-3,"v":53.87},{"g":3,"d":-3,"v":53.87},{"g":3.5,"d":-3,"v":53.87},{"g":4,"d":-3,"v":53.87},{"g":4.5,"d":-3,"v":53.87},{"g":5,"d":-3,"v":53.87},{"g":5.5,"d":-3,"v":54.12},{"g":6,"d":-3,"v":54.37},{"g":6.5,"d":-3,"v":54.37},{"g":7,"d":-3,"v":54.12},{"g":7.5,"d":-3,"v":54.12},{"g":8,"d":-3,"v":53.87},{"g":8.5,"d":-3,"v":53.87},{"g":9,"d":-3,"v":53.62},{"g":9.5,"d":-3,"v":53.37},{"g":10,"d":-3,"v":53.12},
{"g":2,"d":-3.5,"v":54.12},{"g":2.5,"d":-3.5,"v":53.87},{"g":3,"d":-3.5,"v":53.87},{"g":3.5,"d":-3.5,"v":53.87},{"g":4,"d":-3.5,"v":53.87},{"g":4.5,"d":-3.5,"v":53.87},{"g":5,"d":-3.5,"v":53.87},{"g":5.5,"d":-3.5,"v":54.12},{"g":6,"d":-3.5,"v":54.37},{"g":6.5,"d":-3.5,"v":54.12},{"g":7,"d":-3.5,"v":53.87},{"g":7.5,"d":-3.5,"v":54.12},{"g":8,"d":-3.5,"v":54.12},{"g":8.5,"d":-3.5,"v":54.12},{"g":9,"d":-3.5,"v":53.87},{"g":9.5,"d":-3.5,"v":53.87},{"g":10,"d":-3.5,"v":53.62},
{"g":2,"d":-4,"v":54.37},{"g":2.5,"d":-4,"v":54.12},{"g":3,"d":-4,"v":53.87},{"g":3.5,"d":-4,"v":53.87},{"g":4,"d":-4,"v":53.87},{"g":4.5,"d":-4,"v":53.87},{"g":5,"d":-4,"v":53.87},{"g":5.5,"d":-4,"v":54.37},{"g":6,"d":-4,"v":54.37},{"g":6.5,"d":-4,"v":54.37},{"g":7,"d":-4,"v":54.6},{"g":7.5,"d":-4,"v":54.37},{"g":8,"d":-4,"v":54.37},{"g":8.5,"d":-4,"v":54.37},{"g":9,"d":-4,"v":54.12},{"g":9.5,"d":-4,"v":54.12},{"g":10,"d":-4,"v":54.12}],
"cbA":[{"lo":8.75,"hi":8.875},{"lo":8.875,"hi":9.0},{"lo":9.0,"hi":9.125},{"lo":9.125,"hi":9.25}],
"cbB":[{"lo":-23,"hi":-22.5},{"lo":-22.5,"hi":-22},{"lo":-22,"hi":-21.5},{"lo":-21.5,"hi":-21},{"lo":-21,"hi":-20.5},{"lo":-20.5,"hi":-20}],
"cbC":[{"lo":53,"hi":53.25},{"lo":53.25,"hi":53.5},{"lo":53.5,"hi":53.75},{"lo":53.75,"hi":54},{"lo":54,"hi":54.25},{"lo":54.25,"hi":54.5}],
"none":[]
},
"concat":[
{"width":224,"height":152,"data":{"name":"topA"},"layer":[
 {"mark":{"type":"area","color":"darkcyan","opacity":0.2},"encoding":{"x":{"field":"g","type":"quantitative","scale":{"domain":[2,10],"nice":false,"zero":false},"axis":{"values":[2,4,6,8,10],"labels":false,"title":null}},"y":{"field":"lo","type":"quantitative","scale":{"domain":[8.63,9.33],"nice":false,"zero":false},"axis":{"values":[8.75,9,9.25],"format":".2f","labelPadding":14,"title":["Electric Field","(kV/cm)"]}},"y2":{"field":"hi"}}},
 {"mark":{"type":"line","color":"darkcyan","strokeWidth":3},"encoding":{"x":{"field":"g","type":"quantitative"},"y":{"field":"m","type":"quantitative"}}}]},
{"width":1,"height":1,"view":{"stroke":null},"data":{"name":"none"},"mark":"point","encoding":{}},
{"width":1,"height":1,"view":{"stroke":null},"data":{"name":"none"},"mark":"point","encoding":{}},
{"width":222,"height":152,"data":{"name":"topB"},"layer":[
 {"mark":{"type":"area","color":"darkcyan","opacity":0.2},"encoding":{"x":{"field":"g","type":"quantitative","scale":{"domain":[2,10],"nice":false,"zero":false},"axis":{"values":[2,4,6,8,10],"labels":false,"title":null}},"y":{"field":"lo","type":"quantitative","scale":{"domain":[-23.4,-19.77],"nice":false,"zero":false},"axis":{"values":[-23,-22,-21,-20],"labelPadding":14,"title":["Reflected Power","(dB)"]}},"y2":{"field":"hi"}}},
 {"mark":{"type":"line","color":"darkcyan","strokeWidth":3},"encoding":{"x":{"field":"g","type":"quantitative"},"y":{"field":"m","type":"quantitative"}}}]},
{"width":1,"height":1,"view":{"stroke":null},"data":{"name":"none"},"mark":"point","encoding":{}},
{"width":1,"height":1,"view":{"stroke":null},"data":{"name":"none"},"mark":"point","encoding":{}},
{"width":223,"height":152,"data":{"name":"topC"},"layer":[
 {"mark":{"type":"area","color":"darkcyan","opacity":0.2},"encoding":{"x":{"field":"g","type":"quantitative","scale":{"domain":[2,10],"nice":false,"zero":false},"axis":{"values":[2,4,6,8,10],"labels":false,"title":null}},"y":{"field":"lo","type":"quantitative","scale":{"domain":[52.66,54.61],"nice":false,"zero":false},"axis":{"values":[53,53.5,54,54.5],"format":".1f","labelPadding":13,"title":"Directivity (%)"}},"y2":{"field":"hi"}}},
 {"mark":{"type":"line","color":"darkcyan","strokeWidth":3},"encoding":{"x":{"field":"g","type":"quantitative"},"y":{"field":"m","type":"quantitative"}}}]},
{"width":1,"height":1,"view":{"stroke":null},"data":{"name":"none"},"mark":"point","encoding":{}},

{"width":224,"height":223,"data":{"name":"gridA"},"mark":{"type":"square","size":215,"opacity":1,"clip":true},"encoding":{
 "x":{"field":"g","type":"quantitative","scale":{"domain":[2,10],"nice":false,"zero":false},"axis":{"values":[2,4,6,8,10],"title":"Inner Gap (cm)"}},
 "y":{"field":"d","type":"quantitative","scale":{"domain":[-4,4],"nice":false,"zero":false},"axis":{"values":[-4,-2,0,2,4],"labelExpr":"replace(datum.label,'−','-')","title":"δRₛₑₚ (cm)","titlePadding":14}},
 "color":{"field":"v","type":"quantitative","scale":{"type":"threshold","domain":[8.75,8.875,9,9.125,9.25],"range":["#440154","#472d7b","#2c728e","#28ae80","#addc30","#fde725"]},"legend":null}}},
{"width":153,"height":223,"data":{"name":"sideA"},"layer":[
 {"mark":{"type":"area","orient":"horizontal","color":"darkcyan","opacity":0.2},"encoding":{"y":{"field":"d","type":"quantitative","scale":{"domain":[-4,4],"nice":false,"zero":false},"axis":{"values":[-4,-2,0,2,4],"labels":false,"title":null}},"x":{"field":"lo","type":"quantitative","scale":{"domain":[8.65,9.29],"nice":false,"zero":false},"axis":{"values":[8.75,9,9.25],"format":".2f","title":["Electric Field","(kV/cm)"]}},"x2":{"field":"hi"}}},
 {"mark":{"type":"line","color":"darkcyan","strokeWidth":3},"encoding":{"y":{"field":"d","type":"quantitative"},"x":{"field":"m","type":"quantitative"},"order":{"field":"d","type":"quantitative"}}}]},
{"width":29,"height":1,"view":{"stroke":null},"data":{"name":"none"},"mark":"point","encoding":{}},
{"width":222,"height":223,"data":{"name":"gridB"},"mark":{"type":"square","size":215,"opacity":1,"clip":true},"encoding":{
 "x":{"field":"g","type":"quantitative","scale":{"domain":[2,10],"nice":false,"zero":false},"axis":{"values":[2,4,6,8,10],"title":"Inner Gap (cm)"}},
 "y":{"field":"d","type":"quantitative","scale":{"domain":[-4,4],"nice":false,"zero":false},"axis":{"values":[-4,-2,0,2,4],"labelExpr":"replace(datum.label,'−','-')","title":"δRₛₑₚ (cm)","titlePadding":14}},
 "color":{"field":"v","type":"quantitative","scale":{"type":"threshold","domain":[-23,-22.5,-22,-21.5,-21,-20.5,-20],"range":["#440154","#481a6c","#3b528b","#27808e","#1fa187","#5ec962","#c8e020","#fde725"]},"legend":null}}},
{"width":151,"height":223,"data":{"name":"sideB"},"layer":[
 {"mark":{"type":"area","orient":"horizontal","color":"darkcyan","opacity":0.2},"encoding":{"y":{"field":"d","type":"quantitative","scale":{"domain":[-4,4],"nice":false,"zero":false},"axis":{"values":[-4,-2,0,2,4],"labels":false,"title":null}},"x":{"field":"lo","type":"quantitative","scale":{"domain":[-23,-19.81],"nice":false,"zero":false},"axis":{"values":[-23,-22,-21,-20],"format":"~g","title":["Reflected Power","(dB)"]}},"x2":{"field":"hi"}}},
 {"mark":{"type":"line","color":"darkcyan","strokeWidth":3},"encoding":{"y":{"field":"d","type":"quantitative"},"x":{"field":"m","type":"quantitative"},"order":{"field":"d","type":"quantitative"}}}]},
{"width":31,"height":1,"view":{"stroke":null},"data":{"name":"none"},"mark":"point","encoding":{}},
{"width":223,"height":223,"data":{"name":"gridC"},"mark":{"type":"square","size":215,"opacity":1,"clip":true},"encoding":{
 "x":{"field":"g","type":"quantitative","scale":{"domain":[2,10],"nice":false,"zero":false},"axis":{"values":[2,4,6,8,10],"title":"Inner Gap (cm)"}},
 "y":{"field":"d","type":"quantitative","scale":{"domain":[-4,4],"nice":false,"zero":false},"axis":{"values":[-4,-2,0,2,4],"labelExpr":"replace(datum.label,'−','-')","title":"δRₛₑₚ (cm)","titlePadding":14}},
 "color":{"field":"v","type":"quantitative","scale":{"type":"threshold","domain":[53,53.25,53.5,53.75,54,54.25,54.5],"range":["#440154","#481a6c","#3b528b","#27808e","#1fa187","#5ec962","#c8e020","#fde725"]},"legend":null}}},
{"width":151,"height":223,"data":{"name":"sideC"},"layer":[
 {"mark":{"type":"area","orient":"horizontal","color":"darkcyan","opacity":0.2},"encoding":{"y":{"field":"d","type":"quantitative","scale":{"domain":[-4,4],"nice":false,"zero":false},"axis":{"values":[-4,-2,0,2,4],"labels":false,"title":null}},"x":{"field":"lo","type":"quantitative","scale":{"domain":[52.98,54.51],"nice":false,"zero":false},"axis":{"values":[53,53.5,54,54.5],"format":"~g","labelFontSize":22,"title":"Directivity (%)"}},"x2":{"field":"hi"}}},
 {"mark":{"type":"line","color":"darkcyan","strokeWidth":3},"encoding":{"y":{"field":"d","type":"quantitative"},"x":{"field":"m","type":"quantitative"},"order":{"field":"d","type":"quantitative"}}}]},

{"width":1,"height":24,"view":{"stroke":null},"data":{"name":"none"},"mark":"point","encoding":{}},
{"width":1,"height":1,"view":{"stroke":null},"data":{"name":"none"},"mark":"point","encoding":{}},
{"width":1,"height":1,"view":{"stroke":null},"data":{"name":"none"},"mark":"point","encoding":{}},
{"width":1,"height":1,"view":{"stroke":null},"data":{"name":"none"},"mark":"point","encoding":{}},
{"width":1,"height":1,"view":{"stroke":null},"data":{"name":"none"},"mark":"point","encoding":{}},
{"width":1,"height":1,"view":{"stroke":null},"data":{"name":"none"},"mark":"point","encoding":{}},
{"width":1,"height":1,"view":{"stroke":null},"data":{"name":"none"},"mark":"point","encoding":{}},
{"width":1,"height":1,"view":{"stroke":null},"data":{"name":"none"},"mark":"point","encoding":{}},

{"width":224,"height":10,"view":{"stroke":null},
 "title":{"text":"a)","orient":"top","anchor":"start","dx":-47,"offset":4,"fontSize":28},
 "layer":[
 {"data":{"name":"cbA"},"mark":{"type":"rect"},"encoding":{"x":{"field":"lo","type":"quantitative","scale":{"domain":[8.7255,9.2745],"nice":false,"zero":false},"axis":{"values":[8.75,9,9.25],"format":".2f","title":"Electric Field (kV/cm)","labelPadding":9,"titlePadding":5}},"x2":{"field":"hi"},"color":{"field":"lo","type":"quantitative","scale":{"type":"threshold","domain":[8.75,8.875,9,9.125,9.25],"range":["#440154","#472d7b","#2c728e","#28ae80","#addc30","#fde725"]},"legend":null}}},
 {"data":{"values":[{"lo":8.75,"hi":9.25}]},"mark":{"type":"rect","filled":false,"stroke":"black","strokeWidth":1.2},"encoding":{"x":{"field":"lo","type":"quantitative"},"x2":{"field":"hi"}}},
 {"data":{"values":[{"lo":8.75}]},"mark":{"type":"point","shape":"M1,-1L-1,0L1,1Z","size":100,"filled":true,"fill":"#440154","stroke":"black","strokeWidth":1.2,"opacity":1,"xOffset":-5},"encoding":{"x":{"field":"lo","type":"quantitative"}}},
 {"data":{"values":[{"lo":9.25}]},"mark":{"type":"point","shape":"M-1,-1L1,0L-1,1Z","size":100,"filled":true,"fill":"#fde725","stroke":"black","strokeWidth":1.2,"opacity":1,"xOffset":5},"encoding":{"x":{"field":"lo","type":"quantitative"}}}]},
{"width":1,"height":1,"view":{"stroke":null},"data":{"name":"none"},"mark":"point","encoding":{}},
{"width":1,"height":1,"view":{"stroke":null},"data":{"name":"none"},"mark":"point","encoding":{}},
{"width":222,"height":10,"view":{"stroke":null},
 "title":{"text":"b)","orient":"top","anchor":"start","dx":-47,"offset":4,"fontSize":28},
 "layer":[
 {"data":{"name":"cbB"},"mark":{"type":"rect"},"encoding":{"x":{"field":"lo","type":"quantitative","scale":{"domain":[-23.1485,-19.8515],"nice":false,"zero":false},"axis":{"values":[-23,-22,-21,-20],"format":"~g","title":"Reflected Power (dB)","labelPadding":9,"titlePadding":5}},"x2":{"field":"hi"},"color":{"field":"lo","type":"quantitative","scale":{"type":"threshold","domain":[-23,-22.5,-22,-21.5,-21,-20.5,-20],"range":["#440154","#481a6c","#3b528b","#27808e","#1fa187","#5ec962","#c8e020","#fde725"]},"legend":null}}},
 {"data":{"values":[{"lo":-23,"hi":-20}]},"mark":{"type":"rect","filled":false,"stroke":"black","strokeWidth":1.2},"encoding":{"x":{"field":"lo","type":"quantitative"},"x2":{"field":"hi"}}},
 {"data":{"values":[{"lo":-23}]},"mark":{"type":"point","shape":"M1,-1L-1,0L1,1Z","size":100,"filled":true,"fill":"#440154","stroke":"black","strokeWidth":1.2,"opacity":1,"xOffset":-5},"encoding":{"x":{"field":"lo","type":"quantitative"}}},
 {"data":{"values":[{"lo":-20}]},"mark":{"type":"point","shape":"M-1,-1L1,0L-1,1Z","size":100,"filled":true,"fill":"#fde725","stroke":"black","strokeWidth":1.2,"opacity":1,"xOffset":5},"encoding":{"x":{"field":"lo","type":"quantitative"}}}]},
{"width":1,"height":1,"view":{"stroke":null},"data":{"name":"none"},"mark":"point","encoding":{}},
{"width":1,"height":1,"view":{"stroke":null},"data":{"name":"none"},"mark":"point","encoding":{}},
{"width":223,"height":10,"view":{"stroke":null},
 "title":{"text":"c)","orient":"top","anchor":"start","dx":-47,"offset":4,"fontSize":28},
 "layer":[
 {"data":{"name":"cbC"},"mark":{"type":"rect"},"encoding":{"x":{"field":"lo","type":"quantitative","scale":{"domain":[52.926,54.574],"nice":false,"zero":false},"axis":{"values":[53,53.5,54,54.5],"format":".1f","title":"Directivity (%)","labelPadding":9,"titlePadding":5}},"x2":{"field":"hi"},"color":{"field":"lo","type":"quantitative","scale":{"type":"threshold","domain":[53,53.25,53.5,53.75,54,54.25,54.5],"range":["#440154","#481a6c","#3b528b","#27808e","#1fa187","#5ec962","#c8e020","#fde725"]},"legend":null}}},
 {"data":{"values":[{"lo":53,"hi":54.5}]},"mark":{"type":"rect","filled":false,"stroke":"black","strokeWidth":1.2},"encoding":{"x":{"field":"lo","type":"quantitative"},"x2":{"field":"hi"}}},
 {"data":{"values":[{"lo":53}]},"mark":{"type":"point","shape":"M1,-1L-1,0L1,1Z","size":100,"filled":true,"fill":"#440154","stroke":"black","strokeWidth":1.2,"opacity":1,"xOffset":-5},"encoding":{"x":{"field":"lo","type":"quantitative"}}},
 {"data":{"values":[{"lo":54.5}]},"mark":{"type":"point","shape":"M-1,-1L1,0L-1,1Z","size":100,"filled":true,"fill":"#fde725","stroke":"black","strokeWidth":1.2,"opacity":1,"xOffset":5},"encoding":{"x":{"field":"lo","type":"quantitative"}}}]},
{"width":1,"height":1,"view":{"stroke":null},"data":{"name":"none"},"mark":"point","encoding":{}}
]
}
